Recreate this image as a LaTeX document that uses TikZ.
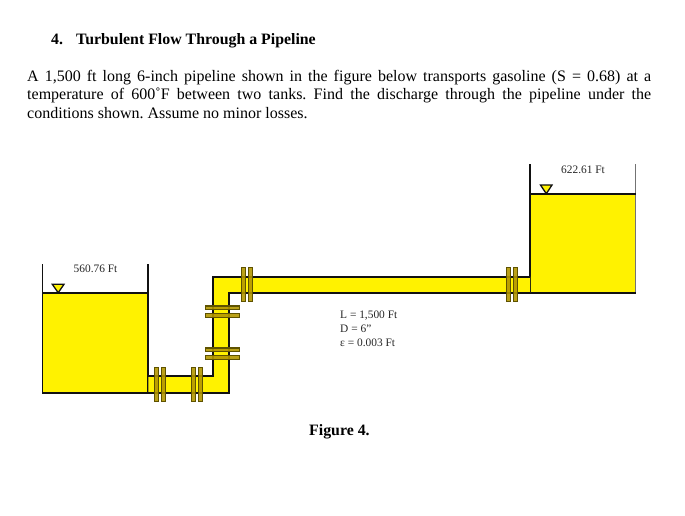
\documentclass[tikz,border=0pt]{standalone}
\usepackage{fontspec}
\setmainfont{Liberation Serif}
\frenchspacing
\definecolor{liq}{HTML}{FFF200}
\definecolor{flg}{HTML}{B39700}
\definecolor{flgedge}{HTML}{5E5200}
\definecolor{ink}{HTML}{111111}
\newcommand{\vflange}[2]{\draw[flange] (#1,#2) rectangle ++(3.8,34);\draw[flange] (#1+7.1,#2) rectangle ++(3.8,34);}
\newcommand{\hflange}[1]{\draw[flange] (205.3,#1) rectangle (239.7,#1+3.8);\draw[flange] (205.3,#1+7.3) rectangle (239.7,#1+11.1);}
\tikzset{
  x=1pt,y=-1pt,
  wall/.style={draw=ink,line width=1.8pt},
  flange/.style={draw=flgedge,line width=1.2pt,fill=flg,fill opacity=0.9},
  surf/.style={draw=ink,line width=1.3pt,fill=liq,line join=miter},
  body/.style={anchor=base west,inner sep=0pt,font=\fontsize{16}{18}\selectfont},
  small/.style={anchor=base west,inner sep=0pt,font=\fontsize{11.4}{13}\selectfont,text=black!85},
  head/.style={anchor=base west,inner sep=0pt,font=\fontsize{15.85}{18}\selectfont\bfseries},
}
\begin{document}
\begin{tikzpicture}
\useasboundingbox[fill=white] (0,0) rectangle (685,516);
% tanks
\fill[liq] (42.4,292.7) rectangle (148.3,392.7);
\draw[wall] (42.4,264) -- (42.4,392.7) -- (148.3,392.7) -- (148.3,264);
\draw[wall] (42.4,292.7) -- (148.3,292.7);
\fill[liq] (530,193.7) rectangle (635.7,292.7);
\draw[draw=black!55,line width=1.5pt] (635.7,164) -- (635.7,292.7);
\draw[wall] (530,164) -- (530,292.7) -- (635.7,292.7);
\draw[wall] (530,193.7) -- (635.7,193.7);
% pipe
\fill[liq] (148.3,376.3) -- (212.7,376.3) -- (212.7,276.7) -- (530,276.7) -- (530,292.7) -- (229,292.7) -- (229,392.7) -- (148.3,392.7) -- cycle;
\draw[wall] (148.3,376.3) -- (212.7,376.3) -- (212.7,276.7) -- (530,276.7);
\draw[wall] (530,292.7) -- (229,292.7) -- (229,392.7) -- (148.3,392.7);
% flanges
\vflange{154.3}{367.3}
\vflange{191.3}{367.3}
\vflange{241.3}{267.3}
\vflange{506.3}{267.3}
\hflange{306}
\hflange{348}
% surface marks
\draw[surf] (52.3,284.3) -- (64,284.3) -- (58.2,292.7) -- cycle;
\draw[surf] (540.5,185) -- (552,185) -- (546.3,193.7) -- cycle;
% text
\node[head] (num) at (51,45) {4.};
\node[head] (title) at (76,45) {Turbulent Flow Through a Pipeline};
\node[body] (l1) at (27,81.3) {\makebox[624pt][s]{A 1,500 ft long 6-inch pipeline shown in the figure below transports gasoline (S = 0.68) at a}};
\node[body] (l2) at (27,100) {\makebox[624pt][s]{temperature of 600˚F between two tanks. Find the discharge through the pipeline under the}};
\node[body] (l3) at (27,119) {conditions shown. Assume no minor losses.};
\node[small] (hl) at (73.5,272) {560.76 Ft};
\node[small] (hr) at (561,173) {622.61 Ft};
\node[small] (pl) at (340,318) {L = 1,500 Ft};
\node[small] (pd) at (340,332) {D = 6”};
\node[small] (pe) at (340,346) {ε = 0.003 Ft};
\node[head] (fig) at (309,435) {Figure 4.};
\end{tikzpicture}
\end{document}
